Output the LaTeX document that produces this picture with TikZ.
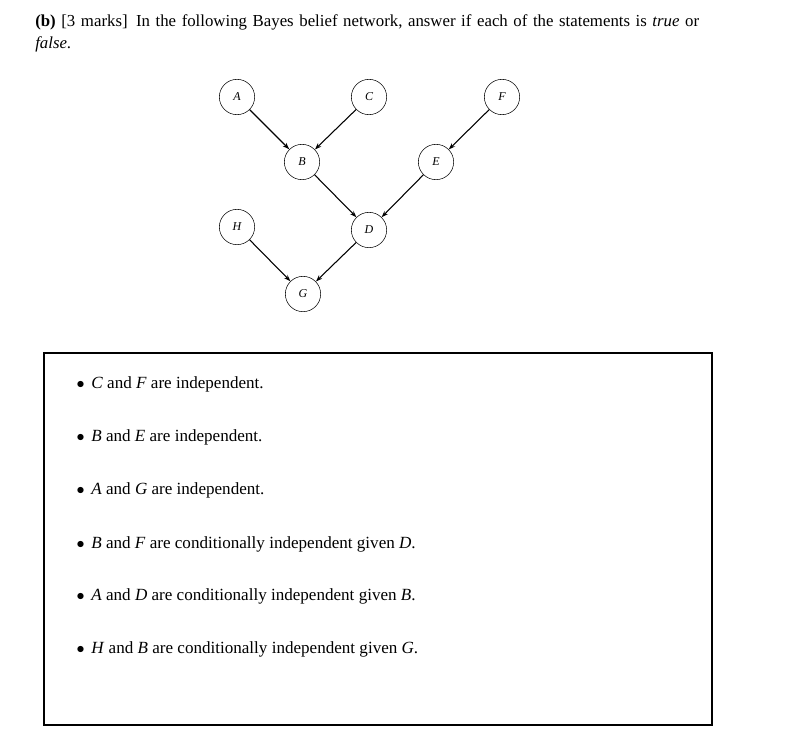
\documentclass[tikz,border=0pt]{standalone}
\usepackage{fontspec}
\setmainfont{Liberation Serif}
\usetikzlibrary{arrows.meta}
\tikzset{
  var/.style={draw, circle, minimum size=26.5pt, inner sep=0pt, font=\small\itshape},
  edge/.style={-{Stealth[length=5pt,width=3.5pt]}, thick},
  item/.style={anchor=west, font=\fontsize{12.8}{15}\selectfont}
}
\begin{document}
\begin{tikzpicture}[x=0.75pt, y=-0.75pt]
  \useasboundingbox (0,0) rectangle (792,746);
  \node[anchor=north west, text width=510pt, align=left, inner sep=0pt,
        font=\fontsize{12.6}{17}\selectfont] (head) at (35,14)
    {\textbf{(b)} [3 marks]\enspace In the following Bayes belief network, answer if each of the statements is \textit{true} or\\ \textit{false}.};
  % network
  \node[var] (A) at (237,97) {A};
  \node[var] (C) at (369,97) {C};
  \node[var] (F) at (502,97) {F};
  \node[var] (B) at (302,162) {B};
  \node[var] (E) at (436,162) {E};
  \node[var] (H) at (237,227) {H};
  \node[var] (D) at (369,230) {D};
  \node[var] (G) at (303,294) {G};
  \foreach \from/\to in {A/B, C/B, F/E, B/D, E/D, H/G, D/G}
    \draw[edge] (\from) -- (\to);
  % statements
  \node[draw, line width=1.3pt, minimum width=501pt, minimum height=279pt, anchor=north west] (box) at (43,352) {};
  \foreach \n/\y/\txt in {
    1/384/{\textit{C} and \textit{F} are independent.},
    2/437/{\textit{B} and \textit{E} are independent.},
    3/490/{\textit{A} and \textit{G} are independent.},
    4/544/{\textit{B} and \textit{F} are conditionally independent given \textit{D}.},
    5/596/{\textit{A} and \textit{D} are conditionally independent given \textit{B}.},
    6/649/{\textit{H} and \textit{B} are conditionally independent given \textit{G}.}}
    \node[item] (s\n) at (72,\y) {$\bullet$\hspace{5pt}\txt};
\end{tikzpicture}
\end{document}
